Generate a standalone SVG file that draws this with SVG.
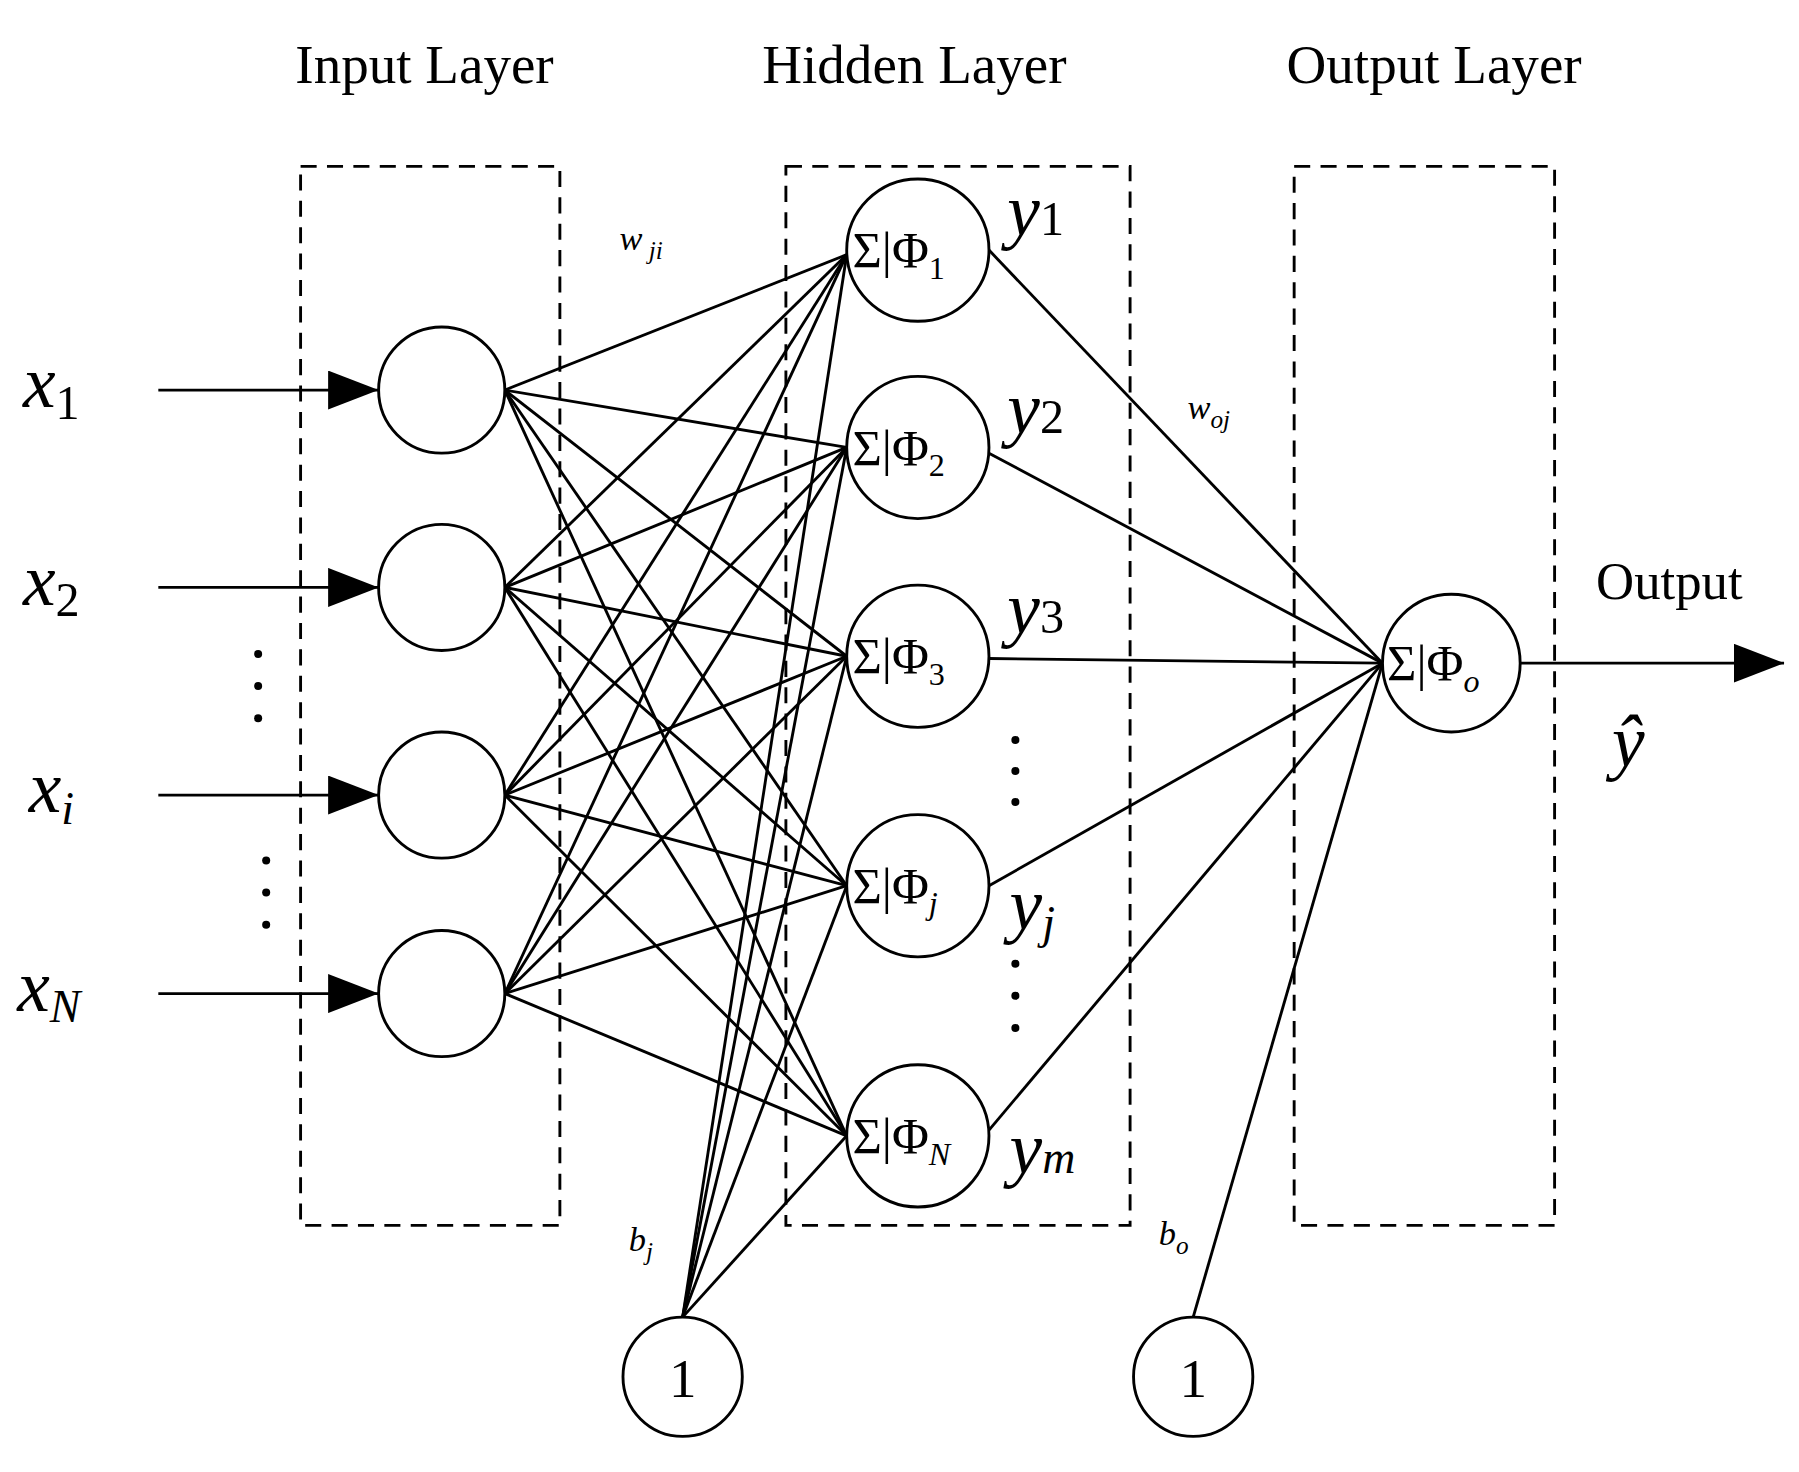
<svg xmlns="http://www.w3.org/2000/svg" width="1799" height="1472" viewBox="0 0 1799 1472">
<style>
text{font-family:"Liberation Serif","Times New Roman",serif;fill:#000}
.t{font-size:48px;text-anchor:middle}
.box{fill:none;stroke:#000;stroke-width:2.5;stroke-dasharray:14 9}
.n{fill:#fff;stroke:#000;stroke-width:2.5}
.c line{stroke:#000;stroke-width:2.5}
.v{font-size:64px;font-style:italic}
.s{font-size:42px;font-style:normal}
.si{font-size:40px;font-style:italic}
.h{font-size:44px}
.hs{font-size:28px}
.w{font-size:30px;font-style:italic}
.ws{font-size:22px;font-style:italic}
</style>
<defs><marker id="b" markerWidth="44" markerHeight="34" refX="44" refY="17" orient="auto" markerUnits="userSpaceOnUse" viewBox="0 0 44 34"><path d="M0,0L44,17L0,34z"/></marker></defs>
<rect width="1799" height="1472" fill="#fff"/>
<g transform="scale(1.1473)">
<g id="titles">
<text class="t" x="370" y="72">Input Layer</text>
<text class="t" x="797" y="72">Hidden Layer</text>
<text class="t" x="1250" y="72">Output Layer</text>
</g>
<g id="layers">
<rect class="box" x="262" y="145" width="226" height="923"/>
<rect class="box" x="685" y="145" width="300" height="923"/>
<rect class="box" x="1128" y="145" width="227" height="923"/>
</g>
<g class="c" id="connectors">
<line x1="138" y1="340" x2="330" y2="340" marker-end="url(#b)"/>
<line x1="138" y1="512" x2="330" y2="512" marker-end="url(#b)"/>
<line x1="138" y1="693" x2="330" y2="693" marker-end="url(#b)"/>
<line x1="138" y1="866" x2="330" y2="866" marker-end="url(#b)"/>
<line x1="1325" y1="578" x2="1555" y2="578" marker-end="url(#b)"/>
<line x1="440" y1="340" x2="738" y2="222"/><line x1="440" y1="340" x2="738" y2="390"/><line x1="440" y1="340" x2="738" y2="572"/><line x1="440" y1="340" x2="738" y2="772"/><line x1="440" y1="340" x2="738" y2="990"/>
<line x1="440" y1="512" x2="738" y2="222"/><line x1="440" y1="512" x2="738" y2="390"/><line x1="440" y1="512" x2="738" y2="572"/><line x1="440" y1="512" x2="738" y2="772"/><line x1="440" y1="512" x2="738" y2="990"/>
<line x1="440" y1="693" x2="738" y2="222"/><line x1="440" y1="693" x2="738" y2="390"/><line x1="440" y1="693" x2="738" y2="572"/><line x1="440" y1="693" x2="738" y2="772"/><line x1="440" y1="693" x2="738" y2="990"/>
<line x1="440" y1="866" x2="738" y2="222"/><line x1="440" y1="866" x2="738" y2="390"/><line x1="440" y1="866" x2="738" y2="572"/><line x1="440" y1="866" x2="738" y2="772"/><line x1="440" y1="866" x2="738" y2="990"/>
<line x1="595" y1="1148" x2="738" y2="222"/><line x1="595" y1="1148" x2="738" y2="390"/><line x1="595" y1="1148" x2="738" y2="572"/><line x1="595" y1="1148" x2="738" y2="772"/><line x1="595" y1="1148" x2="738" y2="990"/>
<line x1="862" y1="218" x2="1205" y2="578"/><line x1="862" y1="395" x2="1205" y2="578"/><line x1="862" y1="574" x2="1205" y2="578"/><line x1="862" y1="772" x2="1205" y2="578"/><line x1="862" y1="985" x2="1205" y2="578"/>
<line x1="1040" y1="1148" x2="1205" y2="578"/>
</g>
<g id="inputs">
<circle class="n" cx="385" cy="340" r="55"/><circle class="n" cx="385" cy="512" r="55"/><circle class="n" cx="385" cy="693" r="55"/><circle class="n" cx="385" cy="866" r="55"/>
<text class="v" x="20" y="355">x<tspan class="s" dy="10">1</tspan></text>
<text class="v" x="20" y="527">x<tspan class="s" dy="10">2</tspan></text>
<text class="v" x="25" y="708">x<tspan class="si" dy="10">i</tspan></text>
<text class="v" x="15" y="881">x<tspan class="si" dy="10">N</tspan></text>
<g fill="#000"><circle cx="225" cy="570" r="3.5"/><circle cx="225" cy="598" r="3.5"/><circle cx="225" cy="626" r="3.5"/><circle cx="232" cy="750" r="3.5"/><circle cx="232" cy="778" r="3.5"/><circle cx="232" cy="806" r="3.5"/></g>
</g>
<g id="hidden">
<circle class="n" cx="800" cy="218" r="62"/><circle class="n" cx="800" cy="390" r="62"/><circle class="n" cx="800" cy="572" r="62"/><circle class="n" cx="800" cy="772" r="62"/><circle class="n" cx="800" cy="990" r="62"/>
<text class="h" x="743" y="233">Σ|Φ<tspan class="hs" dy="10">1</tspan></text>
<text class="h" x="743" y="405">Σ|Φ<tspan class="hs" dy="10">2</tspan></text>
<text class="h" x="743" y="587">Σ|Φ<tspan class="hs" dy="10">3</tspan></text>
<text class="h" x="743" y="787">Σ|Φ<tspan class="hs" dy="10" font-style="italic">j</tspan></text>
<text class="h" x="743" y="1005">Σ|Φ<tspan class="hs" dy="10" font-style="italic">N</tspan></text>
<text class="v" x="878" y="205">y<tspan class="s">1</tspan></text>
<text class="v" x="878" y="377">y<tspan class="s">2</tspan></text>
<text class="v" x="878" y="552">y<tspan class="s">3</tspan></text>
<text class="v" x="880" y="810">y<tspan class="si" dy="8">j</tspan></text>
<text class="v" x="880" y="1022">y<tspan class="si">m</tspan></text>
<g fill="#000"><circle cx="885" cy="645" r="3.5"/><circle cx="885" cy="672" r="3.5"/><circle cx="885" cy="699" r="3.5"/><circle cx="885" cy="840" r="3.5"/><circle cx="885" cy="868" r="3.5"/><circle cx="885" cy="896" r="3.5"/></g>
</g>
<g id="output">
<circle class="n" cx="1265" cy="578" r="60"/>
<text class="h" x="1209" y="593">Σ|Φ<tspan class="hs" dy="10" font-style="italic">o</tspan></text>
<text x="1455" y="522" font-size="46px" text-anchor="middle">Output</text>
<text class="v" x="1405" y="668">ŷ</text>
</g>
<g id="bias">
<circle class="n" cx="595" cy="1200" r="52"/><circle class="n" cx="1040" cy="1200" r="52"/>
<text x="595" y="1218" font-size="48px" text-anchor="middle" font-family="Liberation Sans,sans-serif">1</text>
<text x="1040" y="1218" font-size="48px" text-anchor="middle" font-family="Liberation Sans,sans-serif">1</text>
</g>
<g id="weights">
<text class="w" x="540" y="218">w<tspan class="ws" dy="8"> ji</tspan></text>
<text class="w" x="1035" y="365">w<tspan class="ws" dy="8">oj</tspan></text>
<text class="w" x="548" y="1090">b<tspan class="ws" dy="8">j</tspan></text>
<text class="w" x="1010" y="1085">b<tspan class="ws" dy="8">o</tspan></text>
</g>
</g>
</svg>
